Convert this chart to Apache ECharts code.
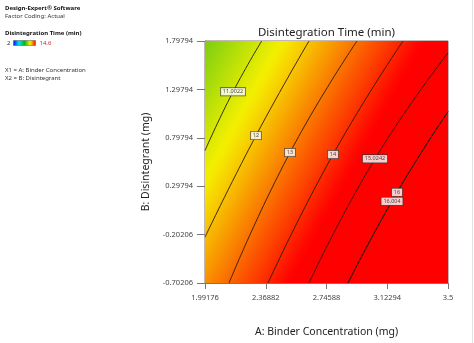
<!DOCTYPE html>
<html>
<head>
<meta charset="utf-8">
<script src="https://cdn.jsdelivr.net/npm/echarts@6/dist/echarts.min.js"></script>
<style>
  html, body { margin: 0; padding: 0; background: #ffffff; }
  #chart { width: 474px; height: 343px; }
</style>
</head>
<body>
<div id="chart"></div>
<script>
// Axis ticks (factor ranges in actual units)
const xTicks = [1.99176, 2.36882, 2.74588, 3.12294, 3.5];
const yTicks = [-0.70206, -0.20206, 0.29794, 0.79794, 1.29794, 1.79794];

// Colour scale of the response (min 2, max 14.6)
const paletteValues = [2, 5.15, 8.3, 11.45, 14.6];
const paletteColors = ['#0000ff', '#00e6e6', '#08b020', '#f5f000', '#ff0000'];

// Contour traces: [Binder Concentration, Disintegrant]
const line11 = [[2.3437, 1.79794], [2.1656, 1.2733], [1.99176, 0.6663]];
const line12 = [[2.6373, 1.79794], [2.3083, 0.8206], [1.99176, -0.2288]];
const line13 = [[2.9352, 1.79794], [2.5193, 0.6457], [2.1407, -0.70206]];
const line14 = [[3.2207, 1.79794], [2.7862, 0.6251], [2.3828, -0.70206]];
const line15 = [[3.5, 1.6745], [3.0469, 0.5809], [2.6373, -0.70206]];
const line16 = [[3.5, 1.0675], [3.1835, 0.2342], [2.8793, -0.70206]];

const contourLevels = [11.0022, 12, 13, 14, 15.0242, 16, 16.004];
const contourPaths  = [line11, line12, line13, line14, line15, line16, line16];
const labelPoints = [
  [2.1656, 1.2733], [2.3083, 0.8206], [2.5193, 0.6457], [2.7862, 0.6251],
  [3.0469, 0.5809], [3.1835, 0.2342], [3.1524, 0.1416]
];

function fmt(v) { return String(v); }

function hexToRgb(h) {
  return [parseInt(h.slice(1, 3), 16), parseInt(h.slice(3, 5), 16), parseInt(h.slice(5, 7), 16)];
}
function colorOf(v) {
  const n = paletteValues.length;
  if (v <= paletteValues[0]) return paletteColors[0];
  if (v >= paletteValues[n - 1]) return paletteColors[n - 1];
  for (let i = 0; i < n - 1; i++) {
    if (v <= paletteValues[i + 1]) {
      const t = (v - paletteValues[i]) / (paletteValues[i + 1] - paletteValues[i]);
      const a = hexToRgb(paletteColors[i]), b = hexToRgb(paletteColors[i + 1]);
      const c = a.map((x, k) => Math.round(x + (b[k] - x) * t));
      return 'rgb(' + c.join(',') + ')';
    }
  }
  return paletteColors[n - 1];
}

// Distinct contours used to shade the response surface
const anchors = [];
contourPaths.forEach((p, i) => {
  if (contourPaths.indexOf(p) === i) anchors.push({ path: p, level: contourLevels[i] });
});

function renderField(params, api) {
  const tl = api.coord([xTicks[0], yTicks[yTicks.length - 1]]);
  const br = api.coord([xTicks[xTicks.length - 1], yTicks[0]]);
  let dx = 0, dy = 0;
  anchors.forEach(a => {
    const s = api.coord(a.path[0]), e = api.coord(a.path[a.path.length - 1]);
    const L = Math.hypot(e[0] - s[0], e[1] - s[1]);
    dx += (e[0] - s[0]) / L; dy += (e[1] - s[1]) / L;
  });
  let nx = -dy, ny = dx;
  const nl = Math.hypot(nx, ny); nx /= nl; ny /= nl;
  const mids = anchors.map(a => api.coord(a.path[1]));
  let proj = p => p[0] * nx + p[1] * ny;
  if (proj(mids[1]) < proj(mids[0])) { nx = -nx; ny = -ny; }
  proj = p => p[0] * nx + p[1] * ny;
  const ap = mids.map(proj);
  const lv = anchors.map(a => a.level);
  const corners = [[tl[0], tl[1]], [br[0], tl[1]], [tl[0], br[1]], [br[0], br[1]]].map(proj);
  const pMin = Math.min.apply(null, corners), pMax = Math.max.apply(null, corners);
  const m = ap.length;
  function valueAt(p) {
    let i = 0;
    if (p <= ap[0]) i = 0;
    else if (p >= ap[m - 1]) i = m - 2;
    else { while (i < m - 2 && p > ap[i + 1]) i++; }
    return lv[i] + (p - ap[i]) * (lv[i + 1] - lv[i]) / (ap[i + 1] - ap[i]);
  }
  const stops = [];
  const N = 60;
  for (let k = 0; k <= N; k++) {
    const p = pMin + (pMax - pMin) * k / N;
    stops.push({ offset: k / N, color: colorOf(valueAt(p)) });
  }
  return {
    type: 'rect',
    shape: { x: tl[0], y: tl[1], width: br[0] - tl[0], height: br[1] - tl[1] },
    style: { fill: new echarts.graphic.LinearGradient(nx * pMin, ny * pMin, nx * pMax, ny * pMax, stops, true) }
  };
}

const series = [{
  type: 'custom',
  renderItem: renderField,
  data: [[xTicks[0], yTicks[0]]],
  encode: { x: 0, y: 1 },
  silent: true,
  z: 1
}];

contourPaths.forEach((p, i) => {
  series.push({
    type: 'line',
    name: fmt(contourLevels[i]),
    data: p,
    smooth: 0.5,
    symbol: 'none',
    lineStyle: { color: '#2a1a10', width: 0.9 },
    silent: true,
    z: 3
  });
});

series.push({
  type: 'scatter',
  data: labelPoints.map((pt, i) => ({ value: pt, level: contourLevels[i] })),
  symbolSize: 0,
  silent: true,
  z: 5,
  label: {
    show: true,
    position: 'inside',
    formatter: p => fmt(p.data.level),
    fontFamily: 'Noto Sans',
    fontSize: 5.5,
    color: '#222',
    backgroundColor: '#ffffff',
    borderColor: '#333333',
    borderWidth: 0.7,
    padding: [1, 2, 0.5, 2]
  }
});

const textFont = 'Noto Sans';
const legendGradient = new echarts.graphic.LinearGradient(0, 0, 1, 0,
  paletteValues.map((v, i) => ({
    offset: (v - paletteValues[0]) / (paletteValues[paletteValues.length - 1] - paletteValues[0]),
    color: paletteColors[i]
  })));

const chart = echarts.init(document.getElementById('chart'), null, { renderer: 'canvas' });
chart.setOption({
  animation: false,
  backgroundColor: '#ffffff',
  tooltip: { show: false },
  grid: {
    left: 205, top: 41, width: 243, height: 243,
    show: true, borderColor: '#6a4a4a', borderWidth: 0.8, backgroundColor: 'transparent'
  },
  xAxis: {
    type: 'value',
    min: xTicks[0], max: xTicks[xTicks.length - 1],
    name: 'A: Binder Concentration (mg)',
    nameLocation: 'middle',
    nameGap: 44,
    nameTextStyle: { fontFamily: textFont, fontSize: 10.5, color: '#222' },
    axisLine: { show: true, onZero: false, lineStyle: { color: '#777', width: 1 } },
    axisTick: { show: true, length: 6, lineStyle: { color: '#777' }, customValues: xTicks },
    axisLabel: { customValues: xTicks, formatter: fmt, fontFamily: textFont, fontSize: 7.5, color: '#444', margin: 11, showMinLabel: true, showMaxLabel: true },
    axisPointer: { show: false },
    splitLine: { show: false }
  },
  yAxis: {
    type: 'value',
    min: yTicks[0], max: yTicks[yTicks.length - 1],
    name: 'B: Disintegrant (mg)',
    nameLocation: 'middle',
    nameGap: 35,
    nameTextStyle: { fontFamily: textFont, fontSize: 10.5, color: '#222' },
    axisLine: { show: true, onZero: false, lineStyle: { color: '#777', width: 1 } },
    axisTick: { show: true, length: 8, lineStyle: { color: '#777' }, customValues: yTicks },
    axisLabel: { customValues: yTicks, formatter: fmt, fontFamily: textFont, fontSize: 7.5, color: '#444', margin: 12, showMinLabel: true, showMaxLabel: true },
    axisPointer: { show: false },
    splitLine: { show: false }
  },
  graphic: [
    { type: 'line', shape: { x1: 472.5, y1: 0, x2: 472.5, y2: 343 }, style: { stroke: '#e2e2e2', lineWidth: 1 } },
    { type: 'text', x: 326.5, y: 33, style: { text: 'Disintegration Time (min)', font: '11.5px "Noto Sans"', fill: '#222', align: 'center', verticalAlign: 'middle' } },
    { type: 'text', x: 5, y: 8.5, style: { text: 'Design-Expert® Software', font: 'bold 6px "Noto Sans"', fill: '#111', verticalAlign: 'middle' } },
    { type: 'text', x: 5, y: 16, style: { text: 'Factor Coding: Actual', font: '6px "Noto Sans"', fill: '#333', verticalAlign: 'middle' } },
    { type: 'text', x: 5, y: 33, style: { text: 'Disintegration Time (min)', font: 'bold 6px "Noto Sans"', fill: '#111', verticalAlign: 'middle' } },
    { type: 'text', x: 7, y: 43, style: { text: fmt(paletteValues[0]), font: '6px "Noto Sans"', fill: '#333', verticalAlign: 'middle' } },
    { type: 'rect', shape: { x: 13.5, y: 40.5, width: 22, height: 5 }, style: { fill: legendGradient, stroke: '#555', lineWidth: 0.5 } },
    { type: 'text', x: 39.5, y: 43, style: { text: fmt(paletteValues[paletteValues.length - 1]), font: '6px "Noto Sans"', fill: '#c8283c', verticalAlign: 'middle' } },
    { type: 'text', x: 5, y: 70, style: { text: 'X1 = A: Binder Concentration', font: '6px "Noto Sans"', fill: '#333', verticalAlign: 'middle' } },
    { type: 'text', x: 5, y: 78, style: { text: 'X2 = B: Disintegrant', font: '6px "Noto Sans"', fill: '#333', verticalAlign: 'middle' } }
  ],
  series: series
});
</script>
</body>
</html>
